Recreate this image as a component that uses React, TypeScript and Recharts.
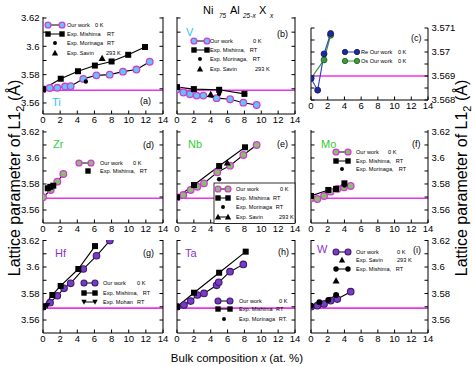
import React from "react";
import { LineChart, Line, XAxis, YAxis, ReferenceLine } from "recharts";

type Pt = [number, number];

const FONT = "'Liberation Sans', Arial, sans-serif";
const MAG = "#e835e8";

const xTicks = [0, 2, 4, 6, 8, 10, 12, 14];
const yTicks = [3.56, 3.57, 3.58, 3.59, 3.6, 3.61, 3.62];
const yLabelTicks = [3.56, 3.58, 3.6, 3.62];
const cTicks = [3.568, 3.5685, 3.569, 3.5695, 3.57, 3.5705, 3.571];
const cLabelTicks = [3.568, 3.569, 3.57, 3.571];
const ni3al = 3.569;

// (a) Ti
const tiOur: Pt[] = [[0, 3.5697], [0.78, 3.5706], [1.67, 3.5707], [2.57, 3.5716], [3.23, 3.5718], [4.7, 3.577], [6.23, 3.5795], [7.78, 3.58], [9.33, 3.5821], [10.9, 3.5836], [12.45, 3.5891]];
const tiMishima: Pt[] = [[0, 3.5697], [2.07, 3.5771], [4.08, 3.5824], [6.05, 3.5864], [8.0, 3.5893], [9.94, 3.594], [11.9, 3.5995]];
const tiMorinaga: Pt[] = [[5.0, 3.5752]];
const tiSavin: Pt[] = [[6.9, 3.5916]];

// (b) V
const vOur: Pt[] = [[0, 3.5697], [0.75, 3.5674], [1.54, 3.5662], [2.33, 3.5652], [3.12, 3.5652], [4.7, 3.5634], [6.3, 3.5626], [7.87, 3.5602], [9.45, 3.5586]];
const vMishima: Pt[] = [[0, 3.5712], [2.0, 3.5698], [5.0, 3.5693], [8.0, 3.5664]];
const vMorinaga: Pt[] = [[5.0, 3.5665]];
const vSavin: Pt[] = [[4.0, 3.5662]];

// (c) Re, Os
const reOur: Pt[] = [[0, 3.5689], [0.8, 3.56841], [1.56, 3.56992], [2.35, 3.57077]];
const osOur: Pt[] = [[0, 3.5689], [1.56, 3.56967], [2.35, 3.5707]];

// (d) Zr
const zrOur: Pt[] = [[0, 3.5698], [0.9, 3.5754], [1.67, 3.5818], [2.37, 3.5877]];
const zrMishima: Pt[] = [[0.55, 3.5767], [0.85, 3.5778], [1.2, 3.5787]];

// (e) Nb
const nbOur: Pt[] = [[0, 3.5698], [0.75, 3.5715], [1.62, 3.5754], [2.41, 3.5779], [3.2, 3.5805], [4.78, 3.589], [6.29, 3.5941], [7.87, 3.6023], [9.45, 3.61]];
const nbMishima: Pt[] = [[0, 3.5698], [2.02, 3.5792], [5.0, 3.5938], [8.07, 3.6082]];
const nbMorinaga: Pt[] = [[5.0, 3.5836]];
const nbSavin: Pt[] = [[5.97, 3.5964]];

// (f) Mo
const moOur: Pt[] = [[0, 3.569], [0.76, 3.5685], [1.56, 3.5708], [2.35, 3.5741], [3.15, 3.5762], [3.95, 3.5775], [4.75, 3.5785]];
const moMishima: Pt[] = [[0, 3.5708], [2.07, 3.5754], [3.0, 3.5762], [4.0, 3.5805]];
const moMorinaga: Pt[] = [[4.0, 3.5788]];

// (g) Hf
const hfOur: Pt[] = [[0, 3.57], [0.82, 3.5731], [1.67, 3.5783], [2.45, 3.5839], [3.23, 3.5877], [4.7, 3.5985], [6.24, 3.6085], [7.8, 3.62]];
const hfMishima: Pt[] = [[0, 3.57], [1.09, 3.5789], [2.06, 3.5857], [4.12, 3.5985], [6.07, 3.6158]];
const hfMohan: Pt[] = [[0, 3.5695], [0.5, 3.571]];

// (h) Ta
const taOur: Pt[] = [[0, 3.57], [0.83, 3.5713], [1.62, 3.5743], [2.41, 3.5789], [3.2, 3.5801], [4.7, 3.5862], [4.95, 3.5885], [6.29, 3.5965], [7.87, 3.602]];
const taMishima: Pt[] = [[0, 3.57], [2.02, 3.5806], [5.0, 3.5957], [8.15, 3.6116]];

// (i) W
const wOur: Pt[] = [[0, 3.57], [0.76, 3.5708], [1.56, 3.5721], [2.35, 3.5746], [3.15, 3.5758], [4.75, 3.5814]];
const wSavin: Pt[] = [[3.0, 3.5897]];
const wMishima: Pt[] = [[0, 3.5708], [1.0, 3.5734], [2.07, 3.5751], [3.0, 3.5789]];

function mark(kind: string, cx: number, cy: number, key?: string | number, s = 1) {
  if (cx == null || cy == null || isNaN(cx) || isNaN(cy)) return <g key={key} />;
  switch (kind) {
    case "cyan":
      return <circle key={key} cx={cx} cy={cy} r={3.3 * s} fill="#5ec8f5" stroke="#d63ad6" strokeWidth={1.3} />;
    case "green":
      return <circle key={key} cx={cx} cy={cy} r={3.3 * s} fill="#86c06a" stroke="#d63ad6" strokeWidth={1.3} />;
    case "purple":
      return <circle key={key} cx={cx} cy={cy} r={3.3 * s} fill="#7a3bc4" stroke="#3e1a70" strokeWidth={1.1} />;
    case "re":
      return <circle key={key} cx={cx} cy={cy} r={3 * s} fill="#1c2a9c" stroke="#10186a" strokeWidth={0.8} />;
    case "os":
      return <circle key={key} cx={cx} cy={cy} r={3 * s} fill="#3c9a3c" stroke="#1d5e1d" strokeWidth={0.8} />;
    case "sq":
      return <rect key={key} x={cx - 3 * s} y={cy - 3 * s} width={6 * s} height={6 * s} fill="#000" />;
    case "dot":
      return <circle key={key} cx={cx} cy={cy} r={2.2 * s} fill="#000" />;
    case "bcirc":
      return <circle key={key} cx={cx} cy={cy} r={3 * s} fill="#000" />;
    case "tri":
      return <polygon key={key} points={`${cx},${cy - 3.5 * s} ${cx - 3.5 * s},${cy + 2.8 * s} ${cx + 3.5 * s},${cy + 2.8 * s}`} fill="#000" />;
    case "tridown":
      return <polygon key={key} points={`${cx},${cy + 3 * s} ${cx - 3 * s},${cy - 2.5 * s} ${cx + 3 * s},${cy - 2.5 * s}`} fill="#000" />;
  }
  return <g key={key} />;
}

interface Series {
  data: Pt[];
  kind: string;
  line?: string;
}

interface PanelProps {
  x: number;
  y: number;
  w: number;
  h: number;
  domain: [number, number];
  ticks: number[];
  labels: number[];
  side: "left" | "right" | "none";
  series: Series[];
}

function Panel({ x, y, w, h, domain, ticks, labels, side, series }: PanelProps) {
  const fmt = (v: number) => (labels.some((t) => Math.abs(t - v) < 1e-7) ? String(+v.toFixed(4)) : "");
  const none = () => "";
  const tickStyle = { fontSize: 9.5, fill: "#000", fontFamily: FONT };
  const ax = { stroke: "#000", strokeWidth: 1 };
  return (
    <div style={{ position: "absolute", left: x - 36, top: y - 5 }}>
      <LineChart width={w + 72} height={h + 5 + 18} margin={{ top: 5, right: 0, bottom: 0, left: 0 }}>
        <XAxis xAxisId="b" type="number" dataKey="x" domain={[0, 14]} ticks={xTicks} interval={0} height={18}
          tickSize={-3.5} tickMargin={6} axisLine={ax} tickLine={ax} tick={tickStyle} allowDataOverflow />
        <XAxis xAxisId="t" orientation="top" type="number" dataKey="x" domain={[0, 14]} ticks={xTicks} interval={0} height={0}
          tickSize={-3.5} axisLine={ax} tickLine={ax} tickFormatter={none} allowDataOverflow />
        <YAxis yAxisId="l" type="number" domain={domain} ticks={ticks} interval={0} width={36}
          tickSize={-3.5} tickMargin={7} axisLine={ax} tickLine={ax} tick={tickStyle}
          tickFormatter={side === "left" ? fmt : none} allowDataOverflow />
        <YAxis yAxisId="r" orientation="right" type="number" domain={domain} ticks={ticks} interval={0} width={36}
          tickSize={-3.5} tickMargin={7} axisLine={ax} tickLine={ax} tick={tickStyle}
          tickFormatter={side === "right" ? fmt : none} allowDataOverflow />
        <ReferenceLine xAxisId="b" yAxisId="l" y={ni3al} stroke={MAG} strokeWidth={1.6} />
        {series.map((s, i) => (
          <Line key={i} xAxisId="b" yAxisId="l" type="linear" data={s.data.map(([a, b]) => ({ x: a, y: b }))}
            dataKey="y" stroke={s.line || "none"} strokeWidth={1.1}
            dot={(p: any) => mark(s.kind, p.cx, p.cy, `${i}-${p.index}`)}
            activeDot={false} isAnimationActive={false} />
        ))}
      </LineChart>
    </div>
  );
}

interface LegRow {
  kind: string;
  line?: boolean;
  y: number;
  m1: number;
  m2: number;
  tx: number;
  text: string;
  tag: string;
  tagX: number;
}

const LFS = 5.6;

function Legend({ rows, lineColor }: { rows: LegRow[]; lineColor?: string }) {
  return (
    <g>
      {rows.map((r, i) => {
        const est = r.tx + r.text.length * LFS * 0.52 + 2;
        const tx2 = Math.max(r.tagX, est);
        return (
          <g key={i}>
            {r.line && <line x1={r.m1} x2={r.m2} y1={r.y} y2={r.y} stroke={lineColor || "#000"} strokeWidth={1} />}
            {r.line ? mark(r.kind, r.m1, r.y, "a", 0.9) : null}
            {r.line ? mark(r.kind, r.m2, r.y, "b", 0.9) : mark(r.kind, (r.m1 + r.m2) / 2, r.y, "c", 0.9)}
            <text x={r.tx} y={r.y + 2} fontSize={LFS} fontFamily={FONT}>
              {r.text}
              {r.tag ? <tspan x={tx2}>{r.tag}</tspan> : null}
            </text>
          </g>
        );
      })}
    </g>
  );
}

const colX = [43, 177, 311];
const colW = [120, 118, 117];

export default function App() {
  const row1: [number, number] = [3.5522, 3.6207];
  const row2: [number, number] = [3.55, 3.6215];
  const row3: [number, number] = [3.5502, 3.6204];
  const lbl = (x: number, y: number, t: string, c: string, fs = 11) => (
    <text x={x} y={y} fontSize={fs} fill={c} fontFamily={FONT}>{t}</text>
  );
  const tag = (x: number, y: number, t: string) => (
    <text x={x} y={y} fontSize={9} fontFamily={FONT}>{t}</text>
  );
  const CY = "#2bc3f2";
  const GR = "#33cc33";
  const PU = "#8833cc";
  return (
    <div style={{ position: "absolute", left: 0, top: 0, width: 474, height: 366, background: "#fff", fontFamily: FONT }}>
      <Panel x={colX[0]} y={17} w={colW[0]} h={97} domain={row1} ticks={yTicks} labels={yLabelTicks} side="left"
        series={[
          { data: tiOur, kind: "cyan", line: "#000" },
          { data: tiMishima, kind: "sq", line: "#000" },
          { data: tiMorinaga, kind: "dot" },
          { data: tiSavin, kind: "tri" },
        ]} />
      <Panel x={colX[1]} y={17} w={colW[1]} h={97} domain={row1} ticks={yTicks} labels={yLabelTicks} side="none"
        series={[
          { data: vOur, kind: "cyan", line: "#000" },
          { data: vMishima, kind: "sq", line: "#000" },
          { data: vMorinaga, kind: "dot" },
          { data: vSavin, kind: "tri" },
        ]} />
      <Panel x={colX[2]} y={28} w={colW[2]} h={72} domain={[3.568, 3.571]} ticks={cTicks} labels={cLabelTicks} side="right"
        series={[
          { data: osOur, kind: "os", line: "#2e9a2e" },
          { data: reOur, kind: "re", line: "#2a3ad0" },
        ]} />

      <Panel x={colX[0]} y={130} w={colW[0]} h={93} domain={row2} ticks={yTicks} labels={yLabelTicks} side="left"
        series={[
          { data: zrOur, kind: "green", line: "#000" },
          { data: zrMishima, kind: "sq" },
        ]} />
      <Panel x={colX[1]} y={130} w={colW[1]} h={93} domain={row2} ticks={yTicks} labels={yLabelTicks} side="none"
        series={[
          { data: nbOur, kind: "green", line: "#000" },
          { data: nbMishima, kind: "sq", line: "#000" },
          { data: nbMorinaga, kind: "dot" },
          { data: nbSavin, kind: "tri" },
        ]} />
      <Panel x={colX[2]} y={130} w={colW[2]} h={93} domain={row2} ticks={yTicks} labels={yLabelTicks} side="right"
        series={[
          { data: moOur, kind: "green", line: "#000" },
          { data: moMorinaga, kind: "dot" },
          { data: moMishima, kind: "sq", line: "#000" },
        ]} />

      <Panel x={colX[0]} y={240} w={colW[0]} h={93} domain={row3} ticks={yTicks} labels={yLabelTicks} side="left"
        series={[
          { data: hfOur, kind: "purple", line: "#000" },
          { data: hfMishima, kind: "sq", line: "#000" },
          { data: hfMohan, kind: "tridown", line: "#000" },
        ]} />
      <Panel x={colX[1]} y={240} w={colW[1]} h={93} domain={row3} ticks={yTicks} labels={yLabelTicks} side="none"
        series={[
          { data: taOur, kind: "purple", line: "#000" },
          { data: taMishima, kind: "sq", line: "#000" },
        ]} />
      <Panel x={colX[2]} y={240} w={colW[2]} h={93} domain={row3} ticks={yTicks} labels={yLabelTicks} side="right"
        series={[
          { data: wOur, kind: "purple", line: "#000" },
          { data: wSavin, kind: "tri" },
          { data: wMishima, kind: "bcirc", line: "#000" },
        ]} />

      <svg width={474} height={366} style={{ position: "absolute", left: 0, top: 0, pointerEvents: "none" }}>
        {/* title */}
        <text y={14} fontSize={11} fontFamily={FONT}>
          <tspan x={203}>Ni</tspan>
          <tspan x={219} dy={4} fontSize={6.5} fontStyle="italic">75</tspan>
          <tspan x={230} dy={-4}>Al</tspan>
          <tspan x={243} dy={4} fontSize={6.5} fontStyle="italic">25-x</tspan>
          <tspan x={259} dy={-4}>X</tspan>
          <tspan x={270} dy={4} fontSize={6.5} fontStyle="italic">x</tspan>
        </text>

        {/* axis titles */}
        <text transform="translate(20,178) rotate(-90)" textAnchor="middle" fontSize={16} fontFamily={FONT}>
          Lattice parameter of L1<tspan fontSize={11} dy={4}>2</tspan><tspan dy={-4}> (Å)</tspan>
        </text>
        <text transform="translate(467,178) rotate(-90)" textAnchor="middle" fontSize={16} fontFamily={FONT}>
          Lattice parameter of L1<tspan fontSize={11} dy={4}>2</tspan><tspan dy={-4}> (Å)</tspan>
        </text>
        <text x={237} y={362} textAnchor="middle" fontSize={11.5} fontFamily={FONT}>
          Bulk composition <tspan fontStyle="italic" fontFamily="'Liberation Serif', serif">x</tspan> (at. %)
        </text>

        {/* panel labels */}
        {lbl(52, 106, "Ti", CY)}
        {tag(140, 104, "(a)")}
        {lbl(186, 36, "V", CY)}
        {tag(277, 37, "(b)")}
        {tag(411, 41, "(c)")}
        {lbl(53, 148, "Zr", GR)}
        {tag(143, 148, "(d)")}
        {lbl(188, 148, "Nb", GR)}
        {tag(277, 147, "(e)")}
        {lbl(321, 148, "Mo", GR)}
        {tag(412, 147, "(f)")}
        {lbl(55, 257, "Hf", PU)}
        {tag(143, 256, "(g)")}
        {lbl(185, 257, "Ta", PU)}
        {tag(278, 255, "(h)")}
        {lbl(317, 253, "W", PU)}
        {tag(413, 253, "(i)")}

        {/* legends */}
        <Legend rows={[
          { kind: "cyan", line: true, y: 25, m1: 48, m2: 62, tx: 67, text: "Our work", tag: "0    K", tagX: 95 },
          { kind: "sq", line: true, y: 34, m1: 48, m2: 62, tx: 67, text: "Exp. Mishima", tag: "RT", tagX: 107 },
          { kind: "dot", y: 43, m1: 55, m2: 55, tx: 67, text: "Exp. Morinaga", tag: "RT", tagX: 107 },
          { kind: "tri", y: 53, m1: 55, m2: 55, tx: 67, text: "Exp. Savin", tag: "293 K", tagX: 106 },
        ]} />
        <Legend rows={[
          { kind: "cyan", line: true, y: 41, m1: 194, m2: 207, tx: 210, text: "Our work", tag: "0 K", tagX: 253 },
          { kind: "sq", line: true, y: 50, m1: 194, m2: 207, tx: 210, text: "Exp. Mishima,", tag: "RT", tagX: 245 },
          { kind: "dot", y: 59, m1: 200, m2: 200, tx: 210, text: "Exp. Morinaga,", tag: "RT", tagX: 250 },
          { kind: "tri", y: 69, m1: 200, m2: 200, tx: 210, text: "Exp. Savin", tag: "293 K", tagX: 255 },
        ]} />
        <Legend lineColor="#2a3ad0" rows={[
          { kind: "re", line: true, y: 52, m1: 345, m2: 357, tx: 361, text: "Re  Our work", tag: "0 K", tagX: 397 },
        ]} />
        <Legend lineColor="#2e9a2e" rows={[
          { kind: "os", line: true, y: 61, m1: 345, m2: 357, tx: 361, text: "Os  Our work", tag: "0 K", tagX: 397 },
        ]} />
        <Legend rows={[
          { kind: "green", line: true, y: 163, m1: 79, m2: 91, tx: 100, text: "Our work", tag: "0 K", tagX: 133 },
          { kind: "sq", y: 171, m1: 88, m2: 88, tx: 100, text: "Exp. Mishima,", tag: "RT", tagX: 135 },
        ]} />
        <rect x={214} y={183} width={81} height={40.5} fill="#fff" stroke="#000" strokeWidth={0.8} />
        <Legend rows={[
          { kind: "green", line: true, y: 189, m1: 218, m2: 228, tx: 236, text: "Our work", tag: "0 K", tagX: 280 },
          { kind: "sq", line: true, y: 198, m1: 218, m2: 228, tx: 236, text: "Exp. Mishima", tag: "RT", tagX: 268 },
          { kind: "dot", y: 207, m1: 223, m2: 223, tx: 236, text: "Exp. Morinaga", tag: "RT", tagX: 270 },
          { kind: "tri", line: true, y: 217, m1: 218, m2: 228, tx: 236, text: "Exp. Savin", tag: "293 K", tagX: 279 },
        ]} />
        <Legend rows={[
          { kind: "green", line: true, y: 152, m1: 336, m2: 348, tx: 356, text: "Our work", tag: "0 K", tagX: 388 },
          { kind: "sq", line: true, y: 161, m1: 336, m2: 348, tx: 356, text: "Exp. Mishima,", tag: "RT", tagX: 388 },
          { kind: "dot", y: 169, m1: 342, m2: 342, tx: 356, text: "Exp. Morinaga,", tag: "RT", tagX: 388 },
        ]} />
        <Legend rows={[
          { kind: "purple", line: true, y: 283, m1: 84, m2: 95, tx: 103, text: "Our work", tag: "0 K", tagX: 137 },
          { kind: "sq", line: true, y: 293, m1: 84, m2: 95, tx: 103, text: "Exp. Mishima,", tag: "RT", tagX: 137 },
          { kind: "tridown", line: true, y: 302, m1: 84, m2: 95, tx: 103, text: "Exp. Mohan", tag: "RT", tagX: 137 },
        ]} />
        <Legend rows={[
          { kind: "purple", line: true, y: 301, m1: 218, m2: 230, tx: 239, text: "Our work", tag: "0 K", tagX: 279 },
          { kind: "sq", line: true, y: 309, m1: 218, m2: 230, tx: 239, text: "Exp. Mishima", tag: "RT", tagX: 274 },
          { kind: "dot", y: 319, m1: 224, m2: 224, tx: 239, text: "Exp. Morinaga", tag: "RT.", tagX: 276 },
        ]} />
        <Legend rows={[
          { kind: "purple", line: true, y: 252, m1: 336, m2: 348, tx: 356, text: "Our work", tag: "0 K", tagX: 397 },
          { kind: "tri", y: 260, m1: 342, m2: 342, tx: 356, text: "Exp. Savin", tag: "293 K", tagX: 397 },
          { kind: "bcirc", line: true, y: 269, m1: 336, m2: 348, tx: 356, text: "Exp. Mishima,", tag: "RT", tagX: 392 },
        ]} />
      </svg>
    </div>
  );
}
